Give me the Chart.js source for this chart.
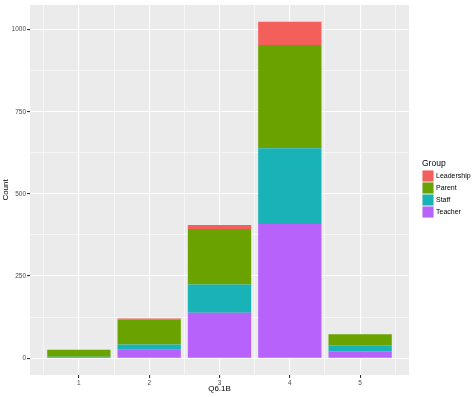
<!DOCTYPE html>
<html>
<head>
<meta charset="utf-8">
<style>
  html, body { margin: 0; padding: 0; background: #fff; }
  canvas { display: block; }
</style>
<script src="https://cdn.jsdelivr.net/npm/chart.js"></script>
</head>
<body>
<canvas id="chart" width="474" height="397"></canvas>
<script>
// Q6.1B answer categories
const categories = [1, 2, 3, 4, 5];

// counts per group, stacked bottom to top: Teacher, Staff, Parent, Leadership
const teacher = [0, 26, 138, 408, 21];
const staff = [4, 16, 86, 231, 18];
const parent = [22, 76, 169, 314, 34];
const leadership = [0, 3, 12, 71, 0];

const groupNames = ['Leadership', 'Parent', 'Staff', 'Teacher'];
const groupColors = ['#F35F5A', '#6AA200', '#19B2B7', '#B862FC'];

const xTicks = [0.5, 1, 1.5, 2, 2.5, 3, 3.5, 4, 4.5, 5, 5.5];
const yTicks = [0, 125, 250, 375, 500, 625, 750, 875, 1000];

const FONT = '"Liberation Sans", Arial, sans-serif';

// grey panel behind the grid, like ggplot
const panelBg = {
    id: 'panelBg',
    beforeDraw(chart) {
        const a = chart.chartArea;
        const ctx = chart.ctx;
        ctx.save();
        ctx.fillStyle = '#EBEBEB';
        ctx.fillRect(a.left, a.top, a.right - a.left, a.bottom - a.top);
        ctx.restore();
    }
};

// legend on the right, ggplot style
const groupLegend = {
    id: 'groupLegend',
    afterDraw(chart) {
        const ctx = chart.ctx;
        const x = 422;
        let y = 170;
        ctx.save();
        ctx.fillStyle = '#000';
        ctx.font = '8.5px ' + FONT;
        ctx.textBaseline = 'middle';
        ctx.fillText('Group', x, 164);
        ctx.font = '7px ' + FONT;
        groupNames.forEach(function(name) {
            const ds = chart.data.datasets.find(d => d.label === name);
            ctx.fillStyle = '#F2F2F2';
            ctx.fillRect(x, y, 12, 12);
            ctx.fillStyle = ds.backgroundColor;
            ctx.fillRect(x + 0.5, y + 0.5, 11, 11);
            ctx.fillStyle = '#000';
            ctx.fillText(name, x + 14, y + 6);
            y += 12;
        });
        ctx.restore();
    }
};

function isMajorX(c) { return c.tick ? Number.isInteger(c.tick.value) : false; }
function isMajorY(c) { return c.tick ? c.tick.value % 250 === 0 : false; }

new Chart(document.getElementById('chart').getContext('2d'), {
    type: 'bar',
    data: {
        labels: categories,
        datasets: [
            { label: 'Teacher', data: teacher, backgroundColor: groupColors[3] },
            { label: 'Staff', data: staff, backgroundColor: groupColors[2] },
            { label: 'Parent', data: parent, backgroundColor: groupColors[1] },
            { label: 'Leadership', data: leadership, backgroundColor: groupColors[0] }
        ]
    },
    options: {
        responsive: false,
        animation: false,
        layout: { padding: { top: 4, right: 65, bottom: 0, left: 0 } },
        // half-unit x ticks halve the bar ruler, so 1.8 gives 0.9 of a unit
        datasets: {
            bar: { barPercentage: 1.8, categoryPercentage: 1, borderWidth: 0 }
        },
        plugins: {
            legend: { display: false },
            tooltip: { enabled: false }
        },
        scales: {
            x: {
                type: 'linear',
                stacked: true,
                offset: false,
                min: 0.305,
                max: 5.695,
                afterBuildTicks: function(scale) {
                    scale.ticks = xTicks.map(v => ({ value: v }));
                },
                afterFit: function(scale) { scale.height = 22; },
                border: { display: false },
                grid: {
                    offset: false,
                    color: '#FFFFFF',
                    lineWidth: c => isMajorX(c) ? 1.1 : 0.55,
                    tickColor: c => isMajorX(c) ? '#333333' : 'rgba(0,0,0,0)',
                    tickLength: 3
                },
                ticks: {
                    autoSkip: false,
                    maxRotation: 0,
                    padding: 1,
                    color: '#4D4D4D',
                    font: { family: FONT, size: 6.5 },
                    callback: v => Number.isInteger(v) ? String(v) : ''
                },
                title: {
                    display: true,
                    text: 'Q6.1B',
                    color: '#000',
                    font: { family: FONT, size: 8 },
                    padding: { top: 0, bottom: 3 }
                }
            },
            y: {
                stacked: true,
                min: -51.2,
                max: 1075.2,
                afterBuildTicks: function(scale) {
                    scale.ticks = yTicks.map(v => ({ value: v }));
                },
                afterFit: function(scale) { scale.width = 30; },
                border: { display: false },
                grid: {
                    color: '#FFFFFF',
                    lineWidth: c => isMajorY(c) ? 1.1 : 0.55,
                    tickColor: c => isMajorY(c) ? '#333333' : 'rgba(0,0,0,0)',
                    tickLength: 3
                },
                ticks: {
                    autoSkip: false,
                    padding: 1,
                    color: '#4D4D4D',
                    font: { family: FONT, size: 6.5 },
                    callback: v => v % 250 === 0 ? String(v) : ''
                },
                title: {
                    display: true,
                    text: 'Count',
                    color: '#000',
                    font: { family: FONT, size: 8 },
                    padding: { top: 1, bottom: 0 }
                }
            }
        }
    },
    plugins: [panelBg, groupLegend]
});
</script>
</body>
</html>
